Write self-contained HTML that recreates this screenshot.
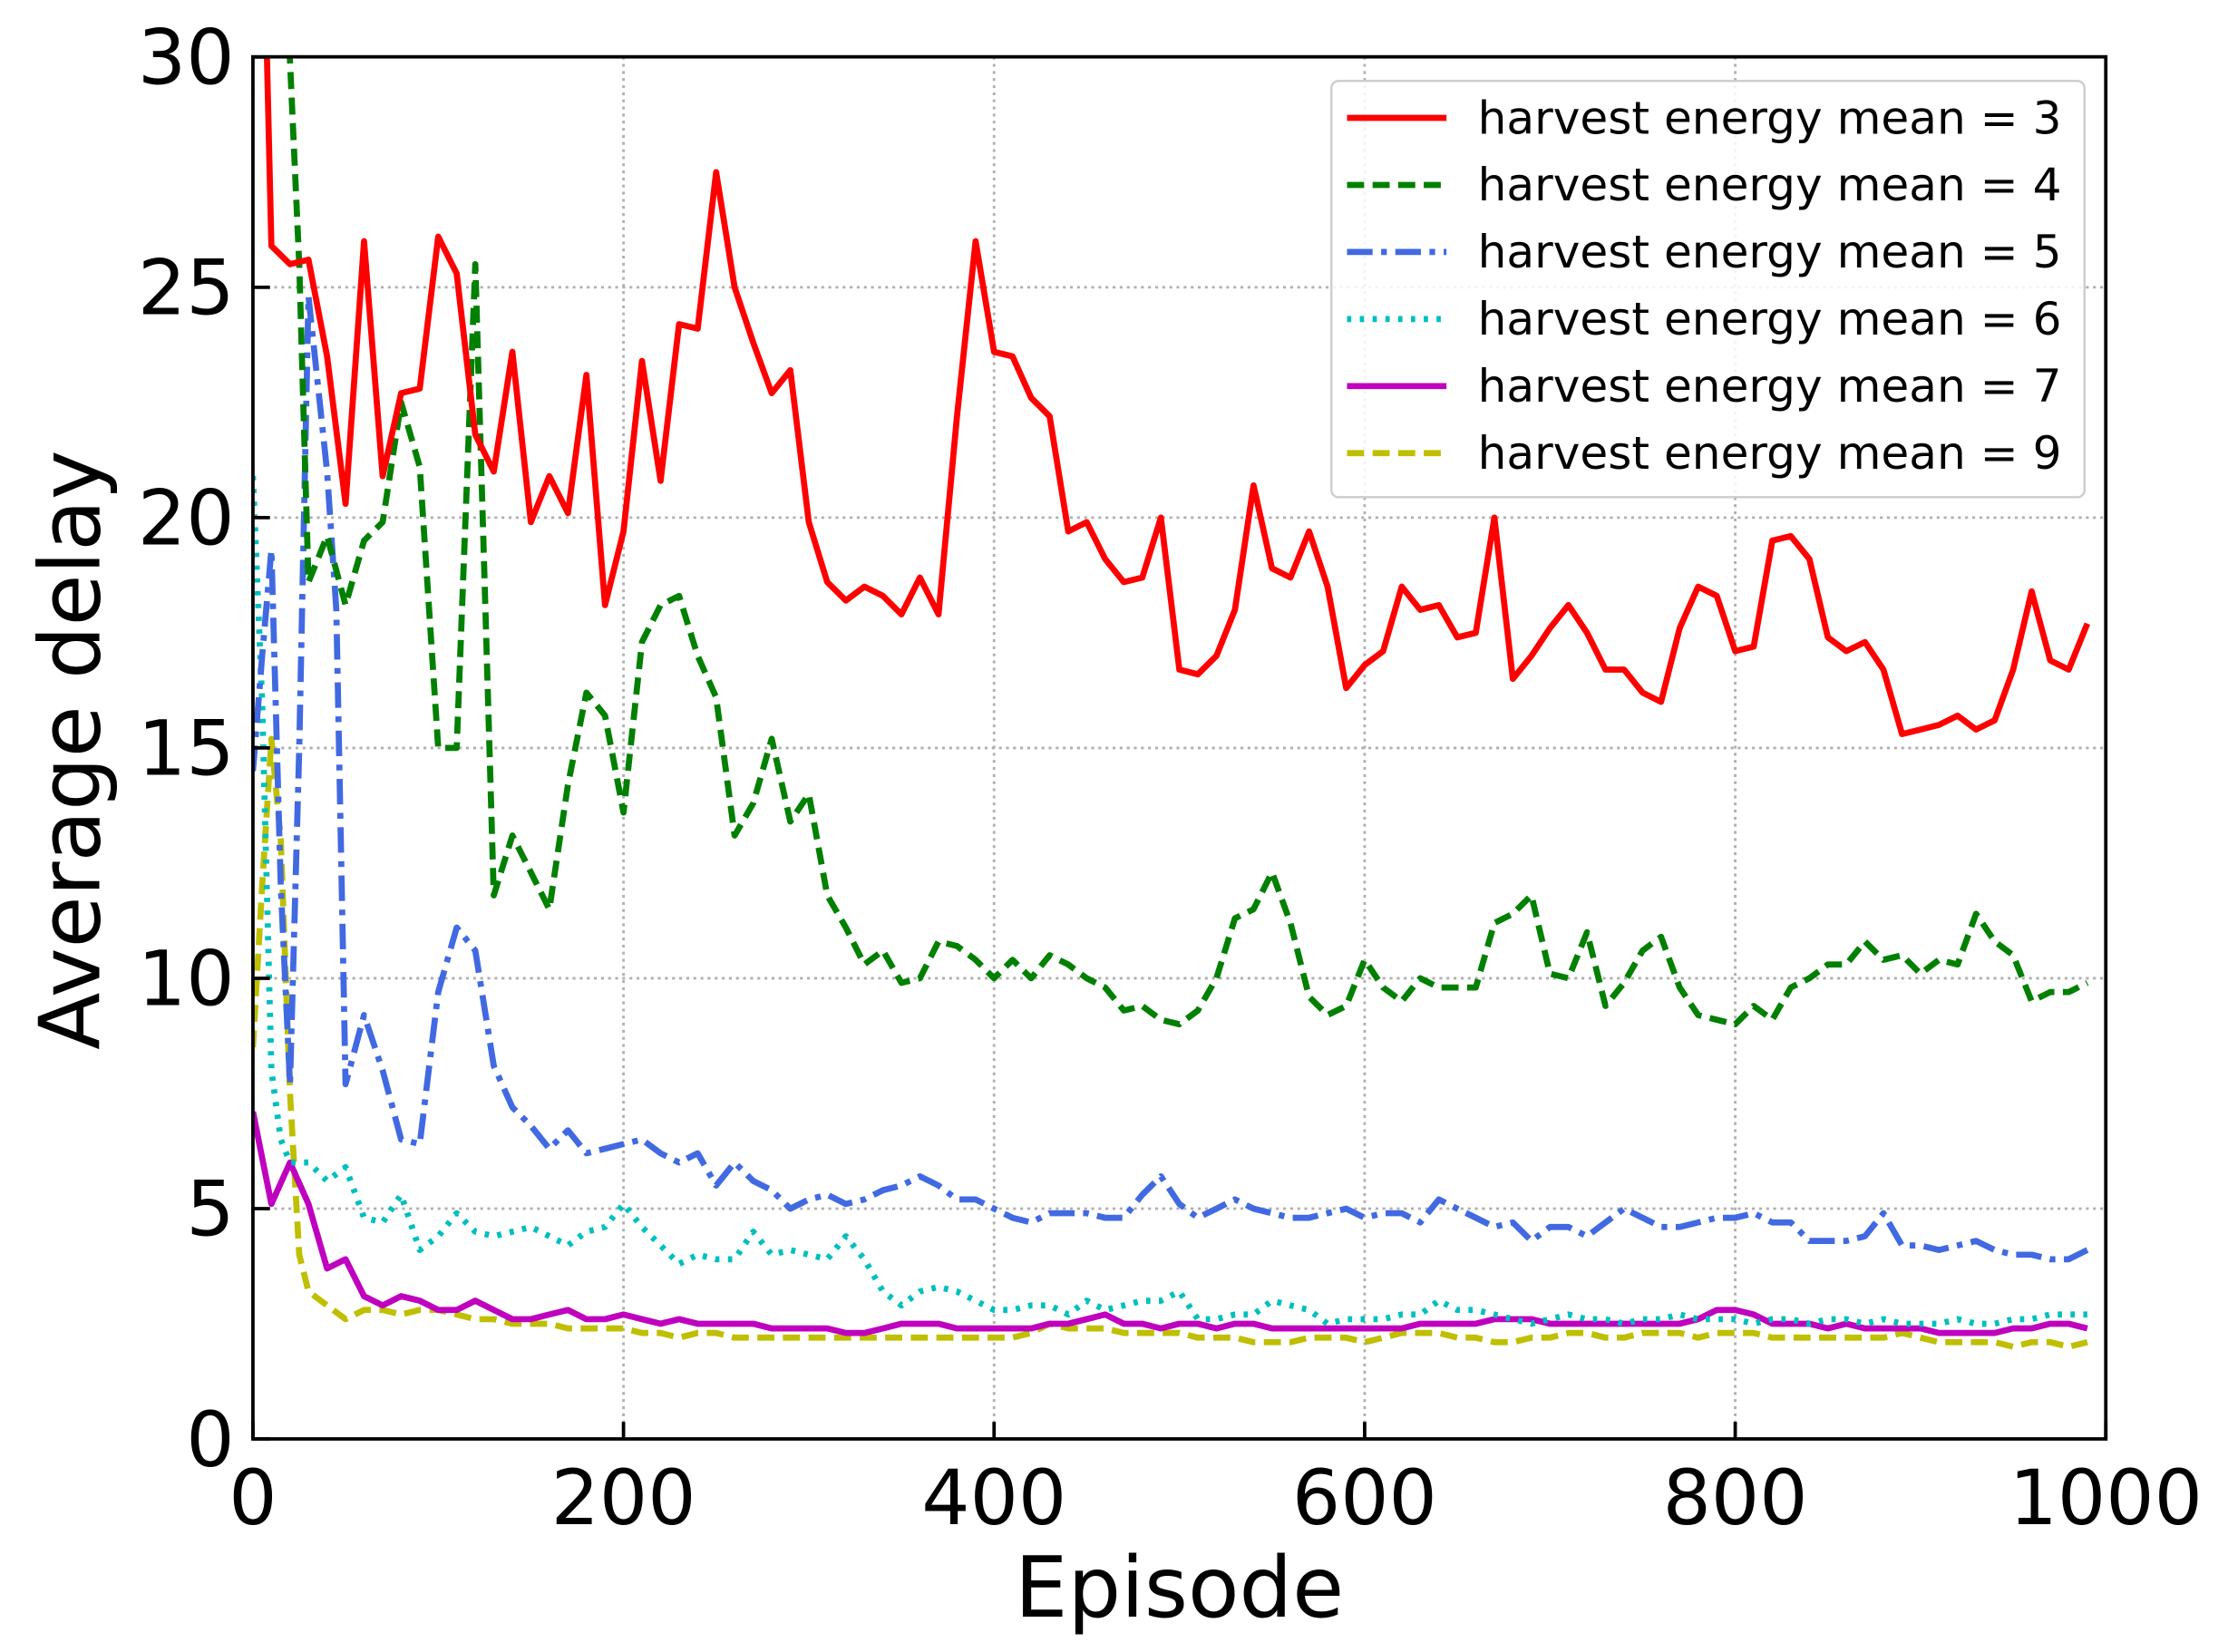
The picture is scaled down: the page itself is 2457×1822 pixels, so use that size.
<!DOCTYPE html>
<html><head><meta charset="utf-8"><style>html,body{margin:0;padding:0;background:#fff}svg{display:block}</style></head>
<body>
<svg id="s" width="2457" height="1822" viewBox="0 0 1568 1163" preserveAspectRatio="none" xmlns="http://www.w3.org/2000/svg" font-family="DejaVu Sans, Liberation Sans, sans-serif">
<defs><clipPath id="c"><rect x="178" y="40" width="1304" height="973"/></clipPath></defs>
<rect width="1568" height="1163" fill="#fff"/>
<g id="grid" stroke="#b0b0b0" stroke-width="1.8" stroke-dasharray="2,3"></g>
<g id="lines" clip-path="url(#c)" fill="none" stroke-width="4.3" stroke-linejoin="round"></g>
<rect x="178" y="40" width="1304" height="973" fill="none" stroke="#000" stroke-width="2.4"/>
<g id="ticks" stroke="#000" stroke-width="2.4"></g>
<g id="labels" font-size="53.5" fill="#000"></g>
<text x="830" y="1138" font-size="59" text-anchor="middle">Episode</text>
<text transform="translate(70,528) rotate(-90)" font-size="59" text-anchor="middle">Average delay</text>
<rect x="937" y="57" width="530" height="293" rx="5" fill="#fff" fill-opacity="0.85" stroke="#ccc" stroke-width="1.5"/>
<g id="leg" font-size="32"></g>
</svg>
<script>
const NS="http://www.w3.org/2000/svg";
const X=e=>178+e*1.304, Y=v=>1013-v*32.43;
function el(p,t,a,txt){const e=document.createElementNS(NS,t);for(const k in a)e.setAttribute(k,a[k]);if(txt!==undefined)e.textContent=txt;document.getElementById(p).appendChild(e);}
for(let i=1;i<5;i++){el('grid','line',{x1:X(i*200),x2:X(i*200),y1:40,y2:1013});}
for(let i=1;i<6;i++){el('grid','line',{x1:178,x2:1482,y1:Y(i*5),y2:Y(i*5)});}
for(let i=0;i<=5;i++){const x=X(i*200);el('ticks','line',{x1:x,x2:x,y1:1013,y2:1001});el('labels','text',{x:x,y:1073,'text-anchor':'middle'},String(i*200));}
for(let i=0;i<=6;i++){const y=Y(i*5);el('ticks','line',{x1:178,x2:190,y1:y,y2:y});el('labels','text',{x:165,y:y+19,'text-anchor':'end'},String(i*5));}
const step=(s,arr)=>arr.map((v,i)=>[s+i*10,v]);
const red=[[5,32],[7,31]].concat(step(10,[25.9,25.5,25.6,23.5,20.3,26.0,20.9,22.7,22.8,26.1,25.3,21.8,21.0,23.6,19.9,20.9,20.1,23.1,18.1,19.7,23.4,20.8,24.2,24.1,27.5,25.0,23.8,22.7,23.2,19.9,18.6,18.2,18.5,18.3,17.9,18.7,17.9,22.2,26.0,23.6,23.5,22.6,22.2,19.7,19.9,19.1,18.6,18.7,20.0,16.7,16.6,17.0,18.0,20.7,18.9,18.7,19.7,18.5,16.3,16.8,17.1,18.5,18.0,18.1,17.4,17.5,20.0,16.5,17.0,17.6,18.1,17.5,16.7,16.7,16.2,16.0,17.6,18.5,18.3,17.1,17.2,19.5,19.6,19.1,17.4,17.1,17.3,16.7,15.3,15.4,15.5,15.7,15.4,15.6,16.7,18.4,16.9,16.7,17.7]));
const green=[[17,33],[20,29.9],[25,25.5]].concat(step(30,[18.6,19.6,18.1,19.5,19.9,22.5,21.1,15.0,15.0,25.5,11.8,13.1,12.3,11.5,14.2,16.2,15.7,13.6,17.3,18.1,18.3,17.0,16.1,13.1,13.8,15.2,13.4,14.0,11.8,11.1,10.3,10.6,9.9,10.0,10.8,10.7,10.4,10.0,10.4,10.0,10.5,10.3,10.0,9.8,9.3,9.4,9.1,9.0,9.3,10.0,11.3,11.5,12.3,11.2,9.6,9.2,9.4,10.4,9.8,9.5,10.0,9.8,9.8,9.8,11.2,11.4,11.8,10.1,10.0,11.0,9.4,9.9,10.6,10.9,9.8,9.2,9.1,9.0,9.4,9.1,9.8,10.0,10.3,10.3,10.8,10.4,10.5,10.1,10.4,10.3,11.4,10.8,10.5,9.5,9.7,9.7,9.9]));
const blue=[[0,14.5],[5,17],[10,19.3],[15,12],[20,7.7],[25,15],[30,24.8],[40,21.0],[45,18]].concat(step(50,[7.7,9.2,8.0,6.5,6.4,9.7,11.1,10.6,8.1,7.2,6.8,6.3,6.7,6.2,6.3,6.4,6.5,6.2,6.0,6.2,5.5,6.0,5.6,5.4,5.0,5.2,5.3,5.1,5.2,5.4,5.5,5.7,5.5,5.2,5.2,5.0,4.8,4.7,4.9,4.9,4.9,4.8,4.8,5.3,5.7,5.1,4.8,5.0,5.2,5.0,4.9,4.8,4.8,4.9,5.0,4.8,4.9,4.9,4.7,5.2,5.0,4.8,4.6,4.7,4.3,4.6,4.6,4.4,4.7,5.0,4.8,4.6,4.6,4.7,4.8,4.8,4.9,4.7,4.7,4.3,4.3,4.3,4.4,4.9,4.2,4.2,4.1,4.2,4.3,4.1,4.0,4.0,3.9,3.9,4.1]));
const cyan=[[0,20.9],[5,16],[10,8],[15,6.5]].concat(step(20,[6.0,6.0,5.6,5.9,4.8,4.7,5.3,4.1,4.4,4.9,4.5,4.4,4.5,4.6,4.4,4.2,4.5,4.6,5.1,4.6,4.2,3.8,4.0,3.9,3.9,4.5,4.0,4.1,4.0,3.9,4.4,3.9,3.2,2.9,3.2,3.3,3.2,3.0,2.8,2.8,2.9,2.9,2.7,3.0,2.8,2.9,3.0,3.0,3.2,2.6,2.6,2.7,2.7,3.0,2.9,2.8,2.5,2.6,2.6,2.6,2.7,2.7,3.0,2.8,2.8,2.7,2.6,2.5,2.6,2.7,2.6,2.6,2.5,2.6,2.6,2.7,2.6,2.6,2.6,2.5,2.6,2.6,2.5,2.6,2.6,2.5,2.6,2.5,2.5,2.5,2.6,2.5,2.5,2.6,2.6,2.7,2.7,2.7]));
const mag=step(0,[7.1,5.1,6.0,5.1,3.7,3.9,3.1,2.9,3.1,3.0,2.8,2.8,3.0,2.8,2.6,2.6,2.7,2.8,2.6,2.6,2.7,2.6,2.5,2.6,2.5,2.5,2.5,2.5,2.4,2.4,2.4,2.4,2.3,2.3,2.4,2.5,2.5,2.5,2.4,2.4,2.4,2.4,2.4,2.5,2.5,2.6,2.7,2.5,2.5,2.4,2.5,2.5,2.4,2.5,2.5,2.4,2.4,2.4,2.4,2.4,2.4,2.4,2.4,2.5,2.5,2.5,2.5,2.6,2.6,2.6,2.5,2.5,2.5,2.5,2.5,2.5,2.5,2.5,2.6,2.8,2.8,2.7,2.5,2.5,2.5,2.4,2.5,2.4,2.4,2.4,2.4,2.3,2.3,2.3,2.3,2.4,2.4,2.5,2.5,2.4]);
const yel=[[0,8.5],[5,12],[10,15.2],[15,13],[20,7.5],[25,4.0]].concat(step(30,[3.2,2.9,2.6,2.8,2.8,2.7,2.8,2.8,2.7,2.6,2.6,2.5,2.5,2.5,2.4,2.4,2.4,2.4,2.3,2.3,2.2,2.3,2.3,2.2,2.2,2.2,2.2,2.2,2.2,2.2,2.2,2.2,2.2,2.2,2.2,2.2,2.2,2.2,2.2,2.3,2.5,2.4,2.4,2.4,2.3,2.3,2.3,2.3,2.2,2.2,2.2,2.1,2.1,2.1,2.2,2.2,2.2,2.1,2.2,2.3,2.3,2.3,2.2,2.2,2.1,2.1,2.2,2.2,2.3,2.3,2.2,2.2,2.3,2.3,2.3,2.2,2.3,2.3,2.3,2.2,2.2,2.2,2.2,2.2,2.2,2.2,2.3,2.2,2.1,2.1,2.1,2.1,2.0,2.1,2.1,2.0,2.1]));
const series=[
 [yel,'#bfbf00','12,6'],[mag,'#bf00bf',''],[cyan,'#00bfbf','3,6'],[blue,'#4169e1','18,6,4,6'],[green,'#008000','12,6'],[red,'#ff0000','']];
for(const [d,c,da] of series){el('lines','polyline',{points:d.map(p=>X(p[0]).toFixed(1)+','+Y(p[1]).toFixed(1)).join(' '),stroke:c,'stroke-dasharray':da});}
const leg=[['#ff0000','','3'],['#008000','12,6','4'],['#4169e1','18,6,4,6','5'],['#00bfbf','3,6','6'],['#bf00bf','','7'],['#bfbf00','12,6','9']];
leg.forEach((l,i)=>{const y=83+i*47.2;el('leg','line',{x1:948,x2:1018,y1:y,y2:y,stroke:l[0],'stroke-width':4.3,'stroke-dasharray':l[1]});el('leg','text',{x:1040,y:y+11},'harvest energy mean = '+l[2]);});
</script>
</body></html>
